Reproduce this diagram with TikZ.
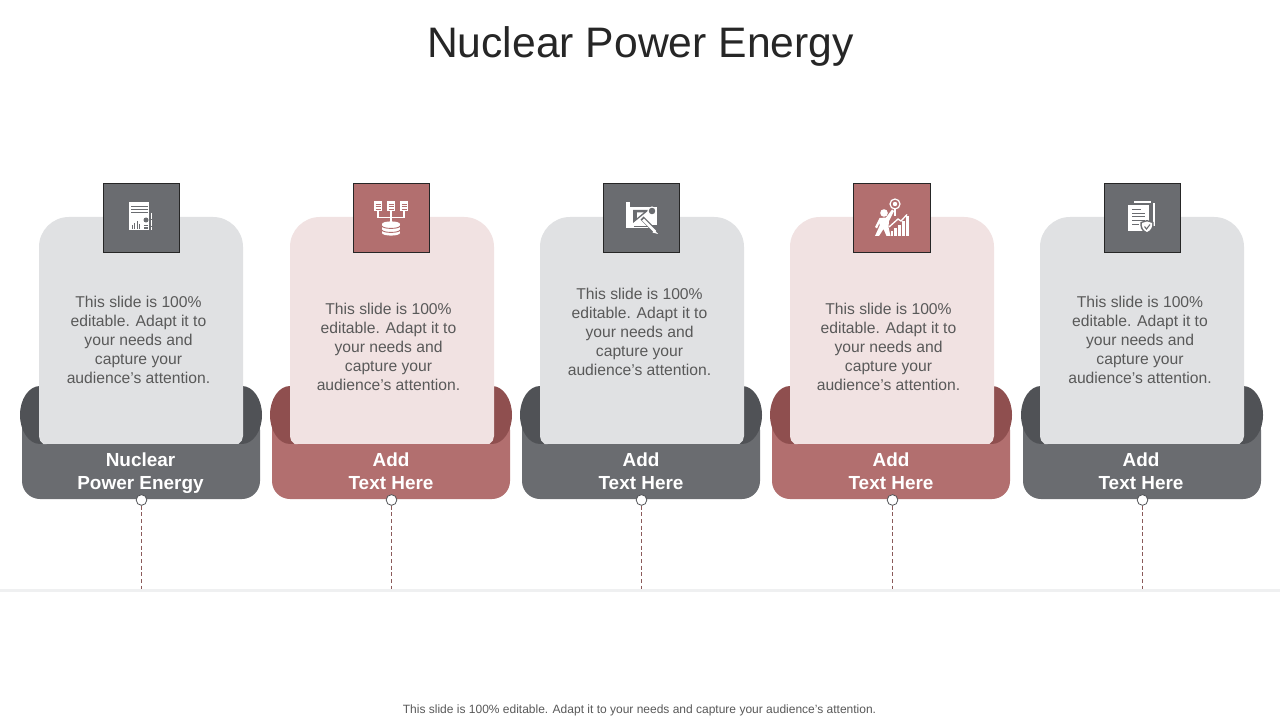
\documentclass[tikz,border=0pt]{standalone}
\usepackage{fontspec}
\setmainfont{Liberation Sans}
\definecolor{grayband}{HTML}{6A6C70}
\definecolor{graytab}{HTML}{505256}
\definecolor{graycard}{HTML}{E0E1E3}
\definecolor{redband}{HTML}{B26F6F}
\definecolor{redtab}{HTML}{8F4F4F}
\definecolor{redcard}{HTML}{F1E2E2}
\definecolor{bodytext}{HTML}{595959}
\definecolor{titletext}{HTML}{262626}
\definecolor{dashcol}{HTML}{8A5A5A}
\tikzset{
  x=0.75pt,y=-0.75pt,
  titletxt/.style={font=\fontsize{32}{38}\selectfont,text=titletext,inner sep=0pt},
  bodytxt/.style={font=\fontsize{11.75}{14.25}\selectfont,text=bodytext,align=center,inner sep=0pt},
  labeltxt/.style={font=\fontsize{14.2}{17.25}\selectfont\bfseries,text=white,align=center,inner sep=0pt},
  foottxt/.style={font=\fontsize{9}{11}\selectfont,text=bodytext,inner sep=0pt},
  iconbox/.style={draw=black!85,line width=0.75pt,inner sep=0pt,minimum width=57.5pt,minimum height=51.75pt},
  dot/.style={circle,draw=graytab,fill=white,line width=0.6pt,minimum size=8pt,inner sep=0pt},
  dashline/.style={draw=dashcol,line width=0.7pt,dash pattern=on 3pt off 2pt},
  ico/.style={fill=white,draw=none},
  icl/.style={draw=white,line width=0.8pt},
}
% #1 index, #2 band x, #3 tab x, #4 card x, #5 square centre x, #6 circle x, #7 palette
\newcommand{\colshapes}[7]{%
  \fill[#7band,rounded corners=13.5pt] (#2,412) rectangle ++(238,87);
  \fill[#7tab] (#3,415) arc[start angle=180,end angle=90,x radius=20,y radius=-29] -- (#3+222,386)
     arc[start angle=90,end angle=-90,x radius=20,y radius=-29] -- (#3+20,444)
     arc[start angle=270,end angle=180,x radius=20,y radius=-29] -- cycle;
  \fill[#7band] (#3+12,444) rectangle ++(218,20);
  \fill[#7card] (#4,247) arc[start angle=180,end angle=90,x radius=30,y radius=-30] -- (#4+174,217)
     arc[start angle=90,end angle=0,x radius=30,y radius=-30] -- (#4+204,436)
     arc[start angle=0,end angle=-60,x radius=9,y radius=-9] -- (#4+4.5,444)
     arc[start angle=240,end angle=180,x radius=9,y radius=-9] -- cycle;
  \node[iconbox,fill=#7band] (sq#1) at (#5,218) {};
  \node[dot] (c#1) at (#6,500) {};
  \coordinate (e#1) at (#6,589);
  \draw[dashline] (c#1) -- (e#1);
}
\begin{document}
\begin{tikzpicture}
\useasboundingbox (0,0) rectangle (1280,720);
\fill[white] (0,0) rectangle (1280,720);
\fill[graycard!50] (0,589) rectangle (1280,591.5);
\node[titletxt] (title) at (640.5,46.5) {Nuclear Power Energy};

\colshapes{1}{22}{20}{39}{141.5}{141.5}{gray}
\colshapes{2}{272}{270}{290}{391.5}{391.5}{red}
\colshapes{3}{522}{520}{540}{641.5}{641.5}{gray}
\colshapes{4}{772}{770}{790}{892}{892.5}{red}
\colshapes{5}{1023}{1021}{1040}{1142.5}{1142.5}{gray}

\node[bodytxt] (b1) at (138.5,340) {This slide is 100\%\\editable. Adapt it to\\your needs and\\capture your\\audience’s attention.};
\node[bodytxt] (b2) at (388.5,347) {This slide is 100\%\\editable. Adapt it to\\your needs and\\capture your\\audience’s attention.};
\node[bodytxt] (b3) at (639.5,332) {This slide is 100\%\\editable. Adapt it to\\your needs and\\capture your\\audience’s attention.};
\node[bodytxt] (b4) at (888.5,347) {This slide is 100\%\\editable. Adapt it to\\your needs and\\capture your\\audience’s attention.};
\node[bodytxt] (b5) at (1140,340) {This slide is 100\%\\editable. Adapt it to\\your needs and\\capture your\\audience’s attention.};

\node[labeltxt] (l1) at (140.5,473.5) {Nuclear\\Power Energy};
\node[labeltxt] (l2) at (391,471.5) {Add\\Text Here};
\node[labeltxt] (l3) at (641,471.5) {Add\\Text Here};
\node[labeltxt] (l4) at (891,471.5) {Add\\Text Here};
\node[labeltxt] (l5) at (1141,471.5) {Add\\Text Here};

\node[foottxt] (foot) at (639.5,710) {This slide is 100\% editable. Adapt it to your needs and capture your audience’s attention.};

% icon 1
\fill[ico] (129,202) rectangle (149,230);
\draw[grayband,line width=0.6pt] (131,206)--(148,206) (131,209)--(148,209) (131,212)--(148,212);
\draw[grayband,line width=0.7pt] (132,229)--(132,225) (134.5,229)--(134.5,223) (137,229)--(137,221) (139.5,229)--(139.5,224);
\fill[grayband] (146,220) circle (2.5);
\draw[grayband,line width=0.8pt] (144,225.5)--(148,225.5) (144,228)--(148,228);
\draw[white,line width=0.8pt,dash pattern=on 2pt off 0.6pt] (151.5,213)--(151.5,230);

% icon 2
\foreach \dx in {374,387,400}{
  \fill[ico] (\dx,201) rectangle ++(8,10);
  \draw[redband,line width=0.5pt] (\dx+1.5,204)--(\dx+6.5,204) (\dx+1.5,206.5)--(\dx+6.5,206.5) (\dx+1.5,209)--(\dx+6.5,209);
}
\draw[icl] (378,211)--(378,217.5)--(404,217.5)--(404,211) (391,211)--(391,222);
\fill[ico] (382,224) rectangle (400,233);
\fill[ico] (391,224) ellipse (9 and 2.6);
\fill[ico] (391,233) ellipse (9 and 2.6);
\draw[redband,line width=0.7pt] (382,226) arc[start angle=180,end angle=360,x radius=9,y radius=-2.4];
\draw[redband,line width=0.7pt] (382,230) arc[start angle=180,end angle=360,x radius=9,y radius=-2.4];

% icon 3
\fill[ico] (626,202) rectangle (630,228);
\fill[ico] (626,225) rectangle (650,228);
\fill[ico] (630,207) rectangle (657,225);
\fill[grayband] (633,210)--(649,210)--(633,223)--cycle;
\fill[ico] (637,212.5)--(643.5,212.5)--(637,218)--cycle;
\draw[white,line width=0.8pt,fill=grayband] (652,211) circle (4);
\draw[grayband,line width=0.6pt] (634,226.5)--(648,226.5);
\draw[grayband,line width=3.2pt] (642,218)--(657,233);
\draw[white,line width=2pt] (643,219.5)--(655,231.5);
\fill[ico] (654,229.5)--(658,234)--(652.5,232.5)--cycle;

% icon 4
\draw[white,line width=0.9pt] (895,204) circle (5);
\fill[ico] (895,204) circle (2.2);
\draw[white,line width=1.3pt] (895,209)--(895,216);
\fill[ico] (884,213) circle (3.8);
\fill[ico] (879.5,218)--(886,217.5)--(892,209.5)--(894,211)--(889,221)--(888.5,227)--(890.5,236)--(886.5,236)--(883.5,229)--(879,236)--(875,236)--(879.5,226)--(879.5,223)--(877,228.5)--(875,227)--cycle;
\foreach \bx/\by in {890.5/231,894.4/228,898.3/225,902.2/221,906/216}{
  \fill[ico] (\bx,\by) rectangle (\bx+2.6,236);
}
\draw[white,line width=1pt] (889,227)--(898,219)--(901,221)--(907,214.5);

% icon 5
\fill[ico] (1134,201) rectangle (1151,225);
\fill[grayband] (1131,203) rectangle (1152,232.5);
\fill[ico] (1152.5,203) rectangle (1155,226);
\fill[ico] (1128,205) rectangle (1149,231);
\draw[grayband,line width=0.6pt] (1132,209.5)--(1141,209.5) (1132,213)--(1145,213) (1132,216.5)--(1145,216.5) (1132,220)--(1145,220) (1132,224)--(1139,224);
\fill[grayband] (1147,233.5)..controls (1140,231) and (1140,226) .. (1140.5,222) -- (1147,220) -- (1153.5,222) .. controls (1154,226) and (1154,231) .. cycle;
\fill[ico] (1147,232)..controls (1142,230) and (1141.7,226) .. (1142,223) -- (1147,221.5) -- (1152,223) .. controls (1152.3,226) and (1152,230) .. cycle;
\draw[grayband,line width=0.8pt] (1144.5,226.5)--(1146.5,229)--(1150,224.5);
\end{tikzpicture}
\end{document}
